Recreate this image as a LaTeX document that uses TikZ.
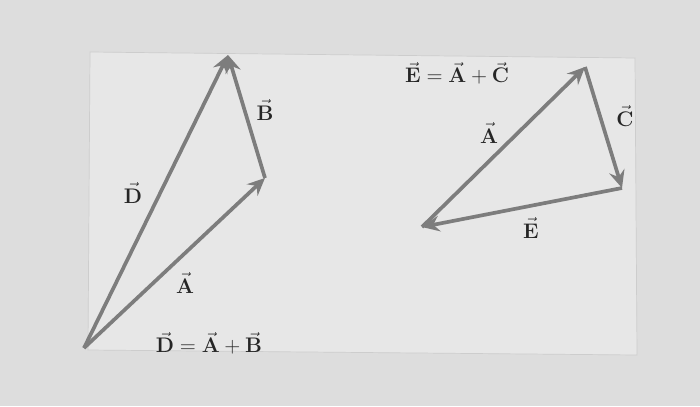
\documentclass[tikz,border=0pt]{standalone}
\usepackage{xcolor}
\usepackage{tikz}
\usetikzlibrary{arrows.meta}
\usetikzlibrary{calc}
\usetikzlibrary{positioning}

\definecolor{vecgray}{RGB}{125,125,125}
\definecolor{screen}{RGB}{221,221,221}
\definecolor{panel}{RGB}{231,231,231}
\definecolor{frame}{RGB}{205,205,205}

\begin{document}
\begin{tikzpicture}[x=0.02cm, y=-0.02cm,
    vec/.style={draw=vecgray, line width=2.1pt,
      -{Stealth[length=10pt, width=9pt, inset=3.5pt]}},
    lbl/.style={font=\large, text=black!85, inner sep=1pt}]

  \useasboundingbox (0, 0) rectangle (700, 406);
  \fill [screen] (0, 0) rectangle (700, 406); % screen
  \draw [frame, fill=panel] (90, 52) -- (635, 58)
  -- (637, 355) -- (88, 350) -- cycle; % panel

  % D = A + B
  \coordinate (O1) at (84, 348);
  \coordinate (A1) at (265, 178);
  \coordinate (D1) at (228, 55);
  \draw [vec] (O1) -- (A1); % A
  \draw [vec] (A1) -- (D1); % B
  \draw [vec] (O1) -- (D1); % D
  \node [lbl] (labelD) at (133, 193) {$\vec{\mathbf{D}}$};
  \node [lbl] (labelB) at (265, 110) {$\vec{\mathbf{B}}$};
  \node [lbl] (labelA1) at (185, 283) {$\vec{\mathbf{A}}$};
  \node [lbl] (sumD) at (209, 343)
  {$\vec{\mathbf{D}}=\vec{\mathbf{A}}+\vec{\mathbf{B}}$};

  % E = A + C
  \coordinate (O2) at (422, 227);
  \coordinate (A2) at (585, 67);
  \coordinate (C2) at (622, 188);
  \draw [vec] (O2) -- (A2); % A
  \draw [vec] (A2) -- (C2); % C
  \draw [vec] (C2) -- (O2); % E
  \node [lbl] (sumE) at (457, 73)
  {$\vec{\mathbf{E}}=\vec{\mathbf{A}}+\vec{\mathbf{C}}$};
  \node [lbl] (labelA2) at (489, 133) {$\vec{\mathbf{A}}$};
  \node [lbl] (labelC) at (625, 116) {$\vec{\mathbf{C}}$};
  \node [lbl] (labelE) at (531, 228) {$\vec{\mathbf{E}}$};

\end{tikzpicture}
\end{document}
